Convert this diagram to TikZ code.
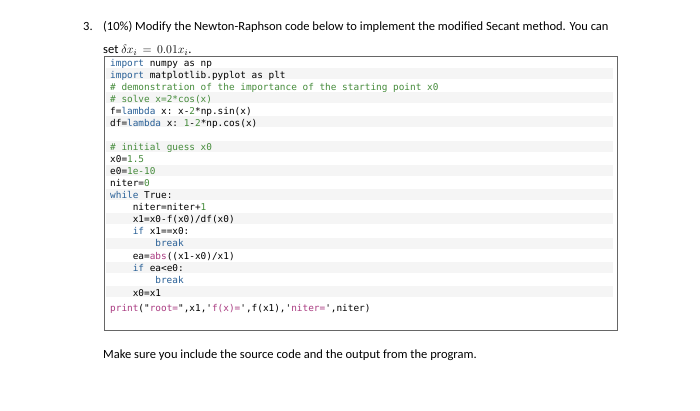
\documentclass[tikz,border=0pt]{standalone}
\usepackage{fontspec}
\setmainfont{Carlito}
\setmonofont{DejaVu Sans Mono}
\begin{document}
\begin{tikzpicture}[x=1pt,y=-1pt,
  txt/.style={anchor=base west,inner sep=0pt,font=\fontsize{12.5}{14}\selectfont},
  cl/.style={anchor=base west,inner sep=0pt,font=\ttfamily\fontsize{9.4}{11}\selectfont},
  stripe/.style={fill=black!4,draw=none}]
\definecolor{kw}{RGB}{40,95,150}
\definecolor{cm}{RGB}{70,140,60}
\definecolor{st}{RGB}{170,60,130}
\newcommand{\kw}[1]{\textcolor{kw}{#1}}
\newcommand{\cm}[1]{\textcolor{cm}{#1}}
\newcommand{\st}[1]{\textcolor{st}{#1}}
\useasboundingbox (0,0) rectangle (700,411);
\fill[white] (0,0) rectangle (700,411);
\node[txt] (n3) at (83,31) {3.};
\node[txt] (h1) at (103,31) {(10\%) Modify the Newton-Raphson code below to implement the modified Secant method. You can};
\node[txt] (h2) at (103,54) {set $\delta x_i\,=\,0.01x_i$.};
\foreach \y in {68,92,116,141,165,189,213,238,262,286}
  \fill[stripe] (106,\y) rectangle (613,\y+11);
\draw[black!60,line width=0.8pt] (104,56) rectangle (617,330) node[coordinate] (box) {};
\node[cl] (c1) at (110,67) {\kw{import} numpy as np};
\node[cl] (c2) at (110,79) {\kw{import} matplotlib.pyplot as plt};
\node[cl] (c3) at (110,91) {\cm{\# demonstration of the importance of the starting point x0}};
\node[cl] (c4) at (110,103) {\cm{\# solve x=2*cos(x)}};
\node[cl] (c5) at (110,115) {f=\kw{lambda} x: x-\cm{2}*np.sin(x)};
\node[cl] (c6) at (110,127) {df=\kw{lambda} x: \cm{1}-\cm{2}*np.cos(x)};
\node[cl] (c7) at (110,151) {\cm{\# initial guess x0}};
\node[cl] (c8) at (110,163) {x0=\cm{1.5}};
\node[cl] (c9) at (110,175) {e0=\cm{1e-10}};
\node[cl] (c10) at (110,187) {niter=\cm{0}};
\node[cl] (c11) at (110,199) {\kw{while} True:};
\node[cl] (c12) at (132.6,211) {niter=niter+\cm{1}};
\node[cl] (c13) at (132.6,223) {x1=x0-f(x0)/df(x0)};
\node[cl] (c14) at (132.6,235) {\kw{if} x1==x0:};
\node[cl] (c15) at (155.2,247) {\kw{break}};
\node[cl] (c16) at (132.6,259) {ea=\st{abs}((x1-x0)/x1)};
\node[cl] (c17) at (132.6,271) {\kw{if} ea<e0:};
\node[cl] (c18) at (155.2,283) {\kw{break}};
\node[cl] (c19) at (132.6,296) {x0=x1};
\node[cl] (c20) at (110,311) {\st{print}("\st{root=}",x1,'\st{f(x)=}',f(x1),'\st{niter=}',niter)};
\node[txt] (foot) at (103,358) {Make sure you include the source code and the output from the program.};
\end{tikzpicture}
\end{document}
